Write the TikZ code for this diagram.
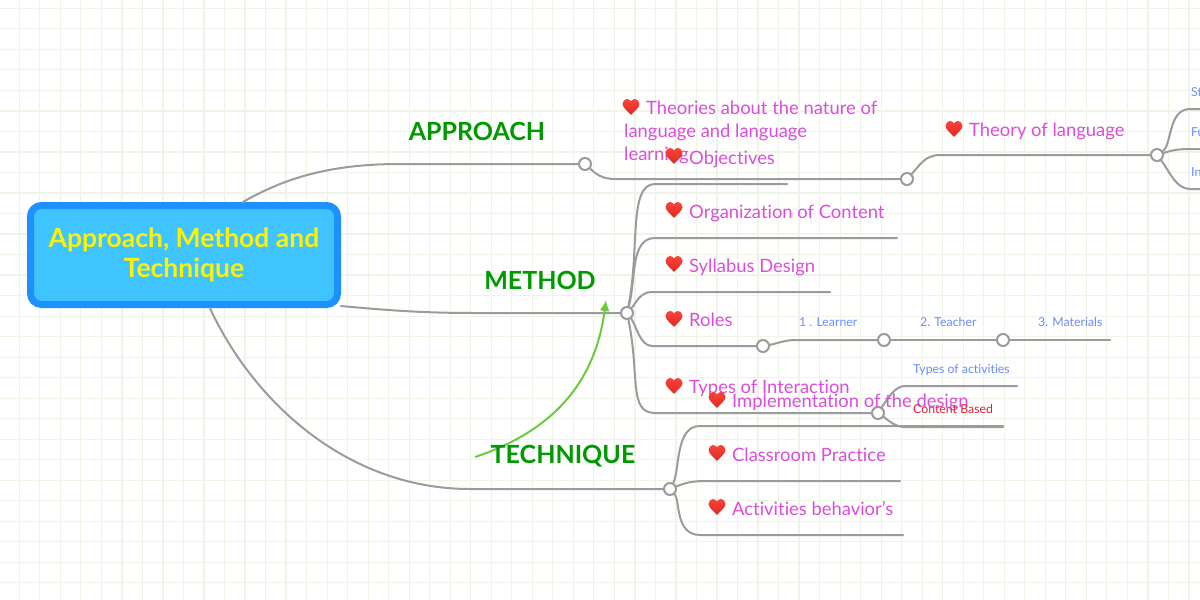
\documentclass[tikz,border=0pt]{standalone}
\usepackage{fontspec}
\setmainfont[Ligatures=NoCommon]{Lato}
\usetikzlibrary{arrows.meta}
\definecolor{gridc}{HTML}{EFF5E6}
\definecolor{linec}{HTML}{9B9B9B}
\definecolor{topic}{HTML}{D94FD9}
\definecolor{sub}{HTML}{6A8CFF}
\definecolor{head}{HTML}{009900}
\definecolor{rootb}{HTML}{1E90FF}
\definecolor{rootf}{HTML}{40C4FF}
\definecolor{arrowc}{HTML}{6CCB3C}
\definecolor{hearttop}{HTML}{F8443A}
\definecolor{heartbot}{HTML}{DD2A22}
\definecolor{redlab}{HTML}{DD2233}
\tikzset{
  x=1pt,y=-1pt,
  conn/.style={draw=linec,line width=2pt,line cap=round},
  joint/.style={circle,draw=linec,line width=2pt,fill=white,minimum size=12pt,inner sep=0pt},
  headlab/.style={text=head,font=\fontsize{25}{30}\selectfont\bfseries,inner sep=0pt},
  toplab/.style={text=topic,font=\fontsize{18.4}{23}\selectfont,inner sep=0pt,anchor=base west},
  sublab/.style={text=sub,font=\fontsize{12.3}{14}\selectfont,inner sep=0pt,anchor=base west},
  heart/.pic={\shade[top color=hearttop,bottom color=heartbot] (0,7.8) .. controls (-3,4.5) and (-8.5,0.5) .. (-8.5,-3) .. controls (-8.5,-6) and (-6,-8) .. (-4,-8) .. controls (-2.2,-8) and (-0.8,-7) .. (0,-5.5) .. controls (0.8,-7) and (2.2,-8) .. (4,-8) .. controls (6,-8) and (8.5,-6) .. (8.5,-3) .. controls (8.5,0.5) and (3,4.5) .. (0,7.8) -- cycle;},
}
\begin{document}
\begin{tikzpicture}
\useasboundingbox (0,0) rectangle (1200,600);
\fill[white] (0,0) rectangle (1200,600);
\foreach \i in {0,...,58}{\draw[gridc,line width=1.2pt] ({-1.2+20.52*\i},0) -- ({-1.2+20.52*\i},600);}
\foreach \i in {0,...,29}{\draw[gridc,line width=1.2pt] (0,{8.3+20.52*\i}) -- (1200,{8.3+20.52*\i});}

\node[draw=rootb,fill=rootf,line width=7pt,rounded corners=11pt,minimum width=307pt,minimum height=99pt,inner sep=0pt,align=center,text=yellow,font=\fontsize{26.5}{30}\selectfont\bfseries] (root) at (184,255) {Approach, Method and\\Technique};

\node[joint] (a1) at (585,164) {};
\node[joint] (a2) at (907,179) {};
\node[joint] (a3) at (1157,155) {};
\node[joint] (m1) at (627,313) {};
\node[joint] (r1) at (763,346) {};
\node[joint] (r2) at (884,340) {};
\node[joint] (r3) at (1003,340) {};
\node[joint] (t1) at (878,413) {};
\node[joint] (te) at (670,489) {};

\coordinate (e1) at (1200,109);
\coordinate (e2) at (1200,149);
\coordinate (e3) at (1200,189);
\coordinate (eo) at (787,184);
\coordinate (eg) at (897,238);
\coordinate (es) at (830,292);
\coordinate (em) at (1110,340);
\coordinate (eta) at (1017,386);
\coordinate (ecb) at (1003,427);
\coordinate (eim) at (1003,426);
\coordinate (ecl) at (900,481);
\coordinate (eac) at (903,535);
\coordinate (gs) at (475,457);
\coordinate (ge) at (606,300);

\draw[conn] (root.42) .. controls (285,178) and (330,164) .. (400,164) -- (a1);
\draw[conn] (root.-18) .. controls (385,310) and (420,313) .. (475,313) -- (m1);
\draw[conn] (root.-64) .. controls (255,405) and (350,489) .. (470,489) -- (te);

\draw[conn] (a1) .. controls (596,174) and (602,179) .. (615,179) -- (a2);
\draw[conn] (a2) .. controls (920,165) and (925,155) .. (940,155) -- (a3);
\draw[conn] (a3) .. controls (1172,145) and (1168,109) .. (1190,109) -- (e1);
\draw[conn] (a3) .. controls (1170,151) and (1176,149) .. (1190,149) -- (e2);
\draw[conn] (a3) .. controls (1170,172) and (1176,189) .. (1190,189) -- (e3);

\draw[conn] (m1) .. controls (640,250) and (628,184) .. (655,184) -- (eo);
\draw[conn] (m1) .. controls (636,280) and (630,238) .. (655,238) -- (eg);
\draw[conn] (m1) .. controls (636,303) and (640,292) .. (652,292) -- (es);
\draw[conn] (m1) .. controls (636,325) and (640,346) .. (652,346) -- (r1);
\draw[conn] (m1) .. controls (640,375) and (628,413) .. (655,413) -- (t1);

\draw[conn] (r1) .. controls (775,344) and (785,340) .. (795,340) -- (r2);
\draw[conn] (r2) -- (r3);
\draw[conn] (r3) -- (em);

\draw[conn] (t1) .. controls (888,398) and (895,386) .. (905,386) -- (eta);
\draw[conn] (t1) .. controls (888,420) and (895,427) .. (905,427) -- (ecb);

\draw[conn] (te) .. controls (680,470) and (675,426) .. (700,426) -- (eim);
\draw[conn] (te) .. controls (680,485) and (688,481) .. (705,481) -- (ecl);
\draw[conn] (te) .. controls (680,500) and (675,535) .. (700,535) -- (eac);

\draw[arrowc,line width=2pt,-{Latex[length=11pt,width=10pt]}] (gs) .. controls (550,432) and (595,385) .. (ge);

\node[headlab] (happ) at (477,131) {APPROACH};
\node[headlab] (hmet) at (540,280) {METHOD};
\node[headlab] (htec) at (563,456) {TECHNIQUE};

\node[toplab] (ltheo) at (646,114) {Theories about the nature of};
\node[toplab] (ltheo2) at (624,137) {language and language};
\node[toplab] (ltheo3) at (624,160) {learning};
\node[toplab] (lobj) at (689,164) {Objectives};
\node[toplab] (lorg) at (689,218) {Organization of Content};
\node[toplab] (lsyl) at (689,272) {Syllabus Design};
\node[toplab] (lrol) at (689,326) {Roles};
\node[toplab] (ltyp) at (689,393) {Types of Interaction};
\node[toplab] (limp) at (732,407) {Implementation of the design};
\node[toplab] (lcla) at (732,461) {Classroom Practice};
\node[toplab] (lact) at (732,515) {Activities behavior's};
\node[toplab] (lthl) at (969,136) {Theory of language};

\foreach \hx/\hy in {631/107,674/156,674/210,674/264,674/319,674/386,717/400,717/453,717/507,954/129}
  \pic at (\hx,\hy) {heart};

\node[sublab] (s1) at (799,326) {1 . Learner};
\node[sublab] (s2) at (920,326) {2. Teacher};
\node[sublab] (s3) at (1038,326) {3. Materials};
\node[sublab] (s4) at (913,373) {Types of activities};
\node[sublab,text=redlab] (s5) at (913,413) {Content Based};
\node[sublab] (s6) at (1191,96) {St};
\node[sublab] (s7) at (1191,136) {Fu};
\node[sublab] (s8) at (1191,176) {In};
\end{tikzpicture}
\end{document}
